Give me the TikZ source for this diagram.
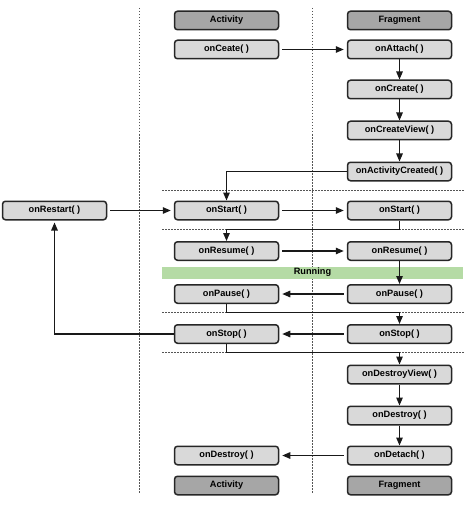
\documentclass[tikz,border=0pt]{standalone}
\usepackage{fontspec}
\setmainfont{Liberation Sans}
\usetikzlibrary{arrows.meta}

\definecolor{boxgray}{HTML}{D9D9D9}
\definecolor{headgray}{HTML}{A6A6A6}
\definecolor{rungreen}{HTML}{B5DBA5}
\definecolor{linegray}{HTML}{555555}

\tikzset{
	call/.style={draw=black!85, line width=1.5pt, rounded corners=3pt, fill=boxgray,
		minimum width=104pt, minimum height=18.5pt, inner sep=0pt, font=\fontsize{9.2}{10}\bfseries},
	head/.style={call, fill=headgray},
	flow/.style={-{Triangle[length=8pt,width=6.5pt]}, line width=1.3pt, black!90},
	sep/.style={dash pattern=on 1.5pt off 1.5pt, linegray, line width=0.7pt}
}

\begin{document}
\begin{tikzpicture}[x=1pt, y=-1pt]
	
	\useasboundingbox (0,0) rectangle (474,505);
	
	\draw[sep] (139,8) -- (139,494);
	\draw[sep] (312,8) -- (312,494);
	
	\draw[sep] (162,190) -- (465,190);
	\draw[sep] (162,229.5) -- (465,229.5);
	\draw[sep] (162,312.5) -- (465,312.5);
	\draw[sep] (162,352.5) -- (465,352.5);
	
	\fill[rungreen] (162,266.5) rectangle (463,278.5);
	\node[font=\fontsize{9.2}{10}\bfseries] (running) at (312.5,272.5) {Running};
	
	\node[head] (acttop) at (226.5,20.5) {Activity};
	\node[head] (fragtop) at (399.5,20.5) {Fragment};
	
	\node[call] (actcreate) at (226.5,49.5) {onCeate( )};
	\node[call] (attach) at (399.5,49.5) {onAttach( )};
	\node[call] (fragcreate) at (399.5,89.5) {onCreate( )};
	\node[call] (createview) at (399.5,130.5) {onCreateView( )};
	\node[call] (actcreated) at (399.5,171.5) {onActivityCreated( )};
	
	\node[call] (restart) at (54.5,210.5) {onRestart( )};
	\node[call] (actstart) at (226.5,210.5) {onStart( )};
	\node[call] (fragstart) at (399.5,210.5) {onStart( )};
	
	\node[call] (actresume) at (226.5,251) {onResume( )};
	\node[call] (fragresume) at (399.5,251) {onResume( )};
	
	\node[call] (actpause) at (226.5,294) {onPause( )};
	\node[call] (fragpause) at (399.5,294) {onPause( )};
	
	\node[call] (actstop) at (226.5,334) {onStop( )};
	\node[call] (fragstop) at (399.5,334) {onStop( )};
	
	\node[call] (destroyview) at (399.5,374.5) {onDestroyView( )};
	\node[call] (fragdestroy) at (399.5,415.5) {onDestroy( )};
	\node[call] (detach) at (399.5,455.5) {onDetach( )};
	\node[call] (actdestroy) at (226.5,455.5) {onDestroy( )};
	
	\node[head] (actbottom) at (226.5,485.5) {Activity};
	\node[head] (fragbottom) at (399.5,485.5) {Fragment};
	
	\draw[flow, shorten <=3pt, shorten >=3pt] (actcreate) -- (attach);
	\draw[flow] (attach) -- (fragcreate);
	\draw[flow] (fragcreate) -- (createview);
	\draw[flow] (createview) -- (actcreated);
	\draw[flow] (actcreated.west) -| (actstart.north);
	
	\draw[flow, shorten <=3pt, shorten >=3pt] (restart) -- (actstart);
	\draw[flow, shorten <=3pt, shorten >=3pt] (actstart) -- (fragstart);
	\draw[flow] (fragstart.south) |- (226.5,229.5) -- (actresume.north);
	
	\draw[flow, shorten <=3pt, shorten >=3pt] (actresume) -- (fragresume);
	\draw[flow] (fragresume) -- (fragpause);
	\draw[flow, shorten <=3pt, shorten >=3pt] (fragpause) -- (actpause);
	\draw[flow] (actpause.south) |- (399.5,312.5) -- (fragstop.north);
	
	\draw[flow, shorten <=3pt, shorten >=3pt] (fragstop) -- (actstop);
	\draw[flow, shorten >=2pt] (actstop.west) -| (restart.south);
	\draw[flow] (actstop.south) |- (399.5,352.5) -- (destroyview.north);
	
	\draw[flow] (destroyview) -- (fragdestroy);
	\draw[flow] (fragdestroy) -- (detach);
	\draw[flow, shorten <=3pt, shorten >=3pt] (detach) -- (actdestroy);
\end{tikzpicture}
\end{document}
